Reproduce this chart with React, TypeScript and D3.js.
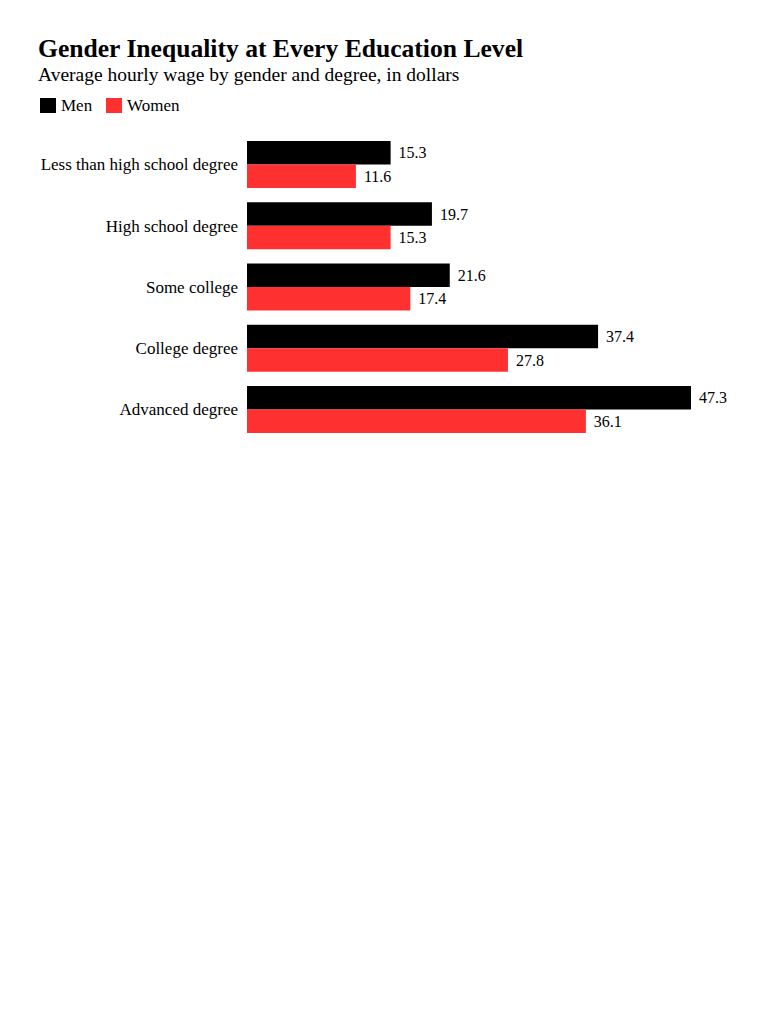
import { useEffect, useRef } from 'react';
import * as d3 from 'd3';

const categories = [
    'Less than high school degree',
    'High school degree',
    'Some college',
    'College degree',
    'Advanced degree',
];
const genders = ['Men', 'Women'];
const menWages = [15.3, 19.7, 21.6, 37.4, 47.3];
const womenWages = [11.6, 15.3, 17.4, 27.8, 36.1];

const colors: Record<string, string> = { Men: '#000000', Women: '#ff3030' };
const FONT = '"Liberation Serif", "Times New Roman", serif';

export default function App() {
    const svgRef = useRef<SVGSVGElement>(null);

    useEffect(() => {
        document.body.style.margin = '0';
        if (!svgRef.current) return;

        const width = 768;
        const height = 1024;

        d3.select(svgRef.current).selectAll('*').remove();
        const svg = d3.select(svgRef.current)
            .attr('width', width)
            .attr('height', height)
            .style('font-family', FONT);

        // Title block
        svg.append('text')
            .attr('x', 38)
            .attr('y', 57)
            .attr('fill', '#000')
            .style('font-size', '25.6px')
            .style('font-weight', 'bold')
            .text('Gender Inequality at Every Education Level');

        svg.append('text')
            .attr('x', 38)
            .attr('y', 81)
            .attr('fill', '#000')
            .style('font-size', '19.5px')
            .text('Average hourly wage by gender and degree, in dollars');

        // Legend
        const legend = svg.append('g').attr('transform', 'translate(40, 98)');
        let offset = 0;
        genders.forEach(g => {
            const item = legend.append('g').attr('transform', `translate(${offset}, 0)`);
            item.append('rect')
                .attr('width', 16)
                .attr('height', 15)
                .attr('fill', colors[g]);
            item.append('text')
                .attr('x', 21)
                .attr('y', 13)
                .attr('fill', '#000')
                .style('font-size', '17px')
                .text(g);
            offset += 66;
        });

        // Scales
        const data = categories.map((c, i) => ({
            category: c,
            values: [
                { gender: 'Men', value: menWages[i] },
                { gender: 'Women', value: womenWages[i] },
            ],
        }));

        const x = d3.scaleLinear()
            .domain([0, d3.max(menWages) || 0])
            .range([247, 691]);

        const y = d3.scaleBand()
            .domain(categories)
            .range([141, 433])
            .paddingInner(0.233)
            .paddingOuter(0);

        const y1 = d3.scaleBand()
            .domain(genders)
            .range([0, y.bandwidth()]);

        const rows = svg.selectAll('.row')
            .data(data)
            .enter()
            .append('g')
            .attr('class', 'row')
            .attr('transform', d => `translate(0, ${y(d.category)})`);

        rows.selectAll('rect')
            .data(d => d.values)
            .enter()
            .append('rect')
            .attr('x', x(0))
            .attr('y', d => y1(d.gender) || 0)
            .attr('width', d => x(d.value) - x(0))
            .attr('height', y1.bandwidth())
            .attr('fill', d => colors[d.gender]);

        rows.selectAll('.value-label')
            .data(d => d.values)
            .enter()
            .append('text')
            .attr('class', 'value-label')
            .attr('x', d => x(d.value) + 8)
            .attr('y', d => (y1(d.gender) || 0) + y1.bandwidth() / 2)
            .attr('dy', '0.35em')
            .attr('fill', '#000')
            .style('font-size', '16px')
            .text(d => d.value.toFixed(1));

        // Category labels
        rows.append('text')
            .attr('x', 238)
            .attr('y', y.bandwidth() / 2)
            .attr('dy', '0.35em')
            .attr('text-anchor', 'end')
            .attr('fill', '#000')
            .style('font-size', '17px')
            .text(d => d.category);
    }, []);

    return (
        <div>
            <svg ref={svgRef}></svg>
        </div>
    );
}
